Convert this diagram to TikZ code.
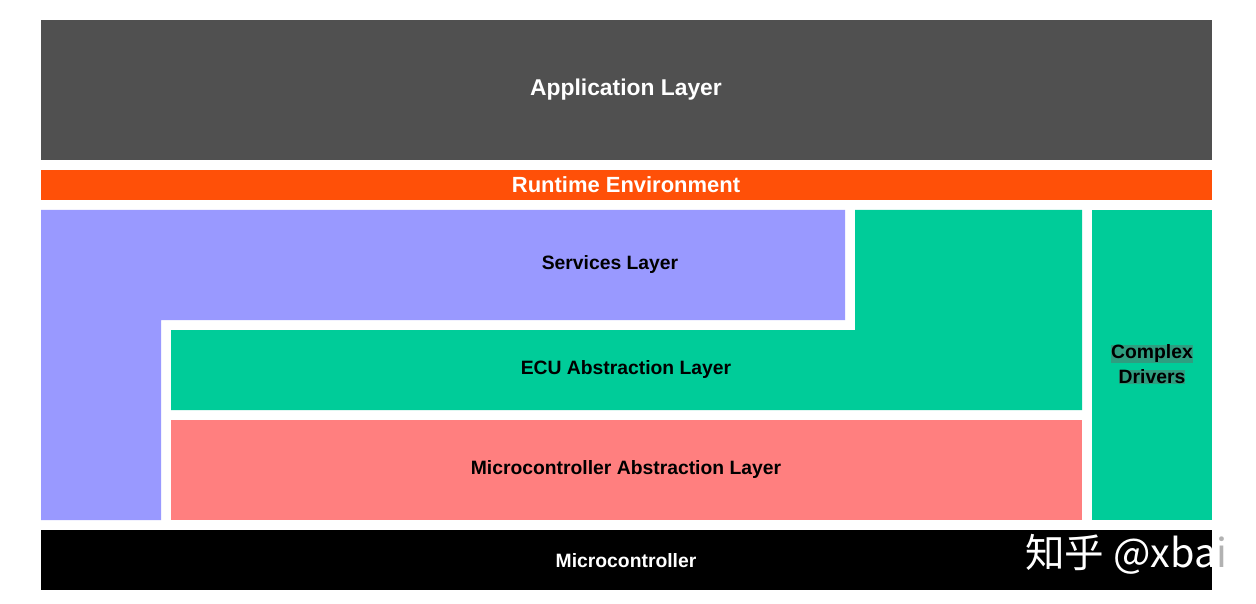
\documentclass[tikz,border=0pt]{standalone}
\usepackage{fontspec}
\setmainfont{Liberation Sans}
\newfontfamily\cjk{Noto Sans CJK SC}
\definecolor{appc}{HTML}{505050}
\definecolor{rtec}{HTML}{FF5008}
\definecolor{svc}{HTML}{9999FF}
\definecolor{grn}{HTML}{00CC99}
\definecolor{dgrn}{HTML}{2E9E80}
\definecolor{mcal}{HTML}{FF7F7F}
\begin{document}
\begin{tikzpicture}[x=0.02cm,y=-0.02cm,
  lbl/.style={font=\bfseries\fontsize{11pt}{12pt}\selectfont,align=center}]
\useasboundingbox[fill=white] (0,0) rectangle (1256,604);
\fill[appc] (41,20) rectangle (1212,160);
\node[lbl,white,font=\bfseries\fontsize{13pt}{14pt}\selectfont] (app) at (626,90) {Application Layer};
\fill[rtec] (41,170) rectangle (1212,200);
\node[lbl,white,font=\bfseries\fontsize{12.5pt}{14pt}\selectfont] (rte) at (626,185) {Runtime Environment};
\fill[svc] (41,210) -- (845,210) -- (845,320) -- (161,320) -- (161,520) -- (41,520) -- cycle;
\node[lbl] (svcl) at (610,265) {Services Layer};
\fill[grn] (855,210) -- (1082,210) -- (1082,410) -- (171,410) -- (171,330) -- (855,330) -- cycle;
\node[lbl] (ecu) at (626,370) {ECU Abstraction Layer};
\fill[grn] (1092,210) rectangle (1212,520);
\node[lbl,fill=dgrn,inner sep=0pt] (cd1) at (1152,354) {Complex};
\node[lbl,fill=dgrn,inner sep=0pt] (cd2) at (1152,377) {Drivers};
\fill[mcal] (171,420) rectangle (1082,520);
\node[lbl] (mc) at (626,470) {Microcontroller Abstraction Layer};
\fill[black] (41,530) rectangle (1212,590);
\node[lbl,white] (mcu) at (626,561) {Microcontroller};
\node[anchor=base west,inner sep=0pt,white,font=\cjk\fontsize{22.5pt}{24pt}\selectfont] (wm) at (1025,567) {知乎 @xba\textcolor{gray!60}{i}};
\end{tikzpicture}
\end{document}
